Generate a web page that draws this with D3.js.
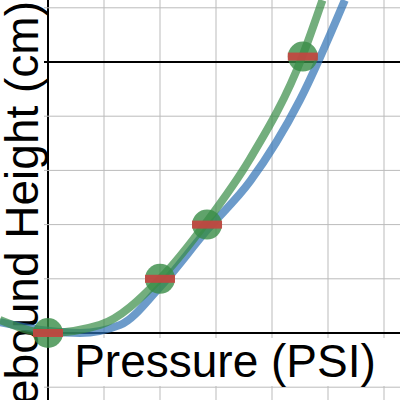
<!DOCTYPE html><html><head><script src="https://cdn.jsdelivr.net/npm/d3@7"></script>
<style>body{margin:0;background:#fff}</style></head><body><svg id="c" width="400" height="400"></svg>
<script>
const dataX=[0,2,2.84,4.55];
const dataY=[0,1,2,5.1];
const greenX=[-0.86,0,0.93,2,2.84,3.6,4.54,4.9];
const greenY=[0.24,0,0.15,1,2.06,3.2,5.1,6.14];
const blueX=[-0.86,0,0.57,1.29,2,2.84,3.61,4.5,5.3];
const blueY=[0.2,0.04,0,0.15,0.85,1.9,2.8,4.3,6.14];
const xTicks=[-1,0,1,2,3,4,5,6];
const yTicks=[-1,0,1,2,3,4,5,6];
const svg=d3.select("#c");
const x=d3.scaleLinear().domain([0,1]).range([48,104]);
const y=d3.scaleLinear().domain([0,1]).range([333,278.8]);
const g=svg.append("g");
xTicks.forEach(t=>g.append("line").attr("x1",x(t)).attr("x2",x(t)).attr("y1",0).attr("y2",400).attr("stroke",t===0?"#000":"#bbb").attr("stroke-width",t===0?2:1));
yTicks.forEach(t=>g.append("line").attr("y1",y(t)).attr("y2",y(t)).attr("x1",0).attr("x2",400).attr("stroke",(t===0||t===5)?"#000":"#bbb").attr("stroke-width",(t===0||t===5)?2:1));
svg.append("rect").attr("x",65).attr("y",338).attr("width",322).attr("height",48).attr("fill","#fff");
svg.append("text").attr("x",225).attr("y",377).attr("text-anchor","middle").attr("font-family","Liberation Sans, Arial").attr("font-size",46).text("Pressure (PSI)");
svg.append("rect").attr("x",0).attr("y",0).attr("width",44).attr("height",400).attr("fill","#fff");
svg.append("text").attr("transform","translate(38,1) rotate(-90)").attr("text-anchor","end").attr("font-family","Liberation Sans, Arial").attr("font-size",46).text("Rebound Height (cm)");
const line=d3.line().x(d=>x(d[0])).y(d=>y(d[1])).curve(d3.curveMonotoneX);
svg.append("path").attr("d",line(blueX.map((v,i)=>[v,blueY[i]]))).attr("fill","none").attr("stroke","#2d70b3").attr("stroke-opacity",0.7).attr("stroke-width",8);
svg.append("path").attr("d",line(greenX.map((v,i)=>[v,greenY[i]]))).attr("fill","none").attr("stroke","#388c46").attr("stroke-opacity",0.7).attr("stroke-width",8);
dataX.forEach((v,i)=>{
 svg.append("circle").attr("cx",x(v)).attr("cy",y(dataY[i])).attr("r",15).attr("fill","#388c46").attr("fill-opacity",0.8);
 svg.append("line").attr("x1",x(v)-15).attr("x2",x(v)+15).attr("y1",y(dataY[i])).attr("y2",y(dataY[i])).attr("stroke","#c74440").attr("stroke-width",8).attr("stroke-opacity",0.9);
});
</script></body></html>
